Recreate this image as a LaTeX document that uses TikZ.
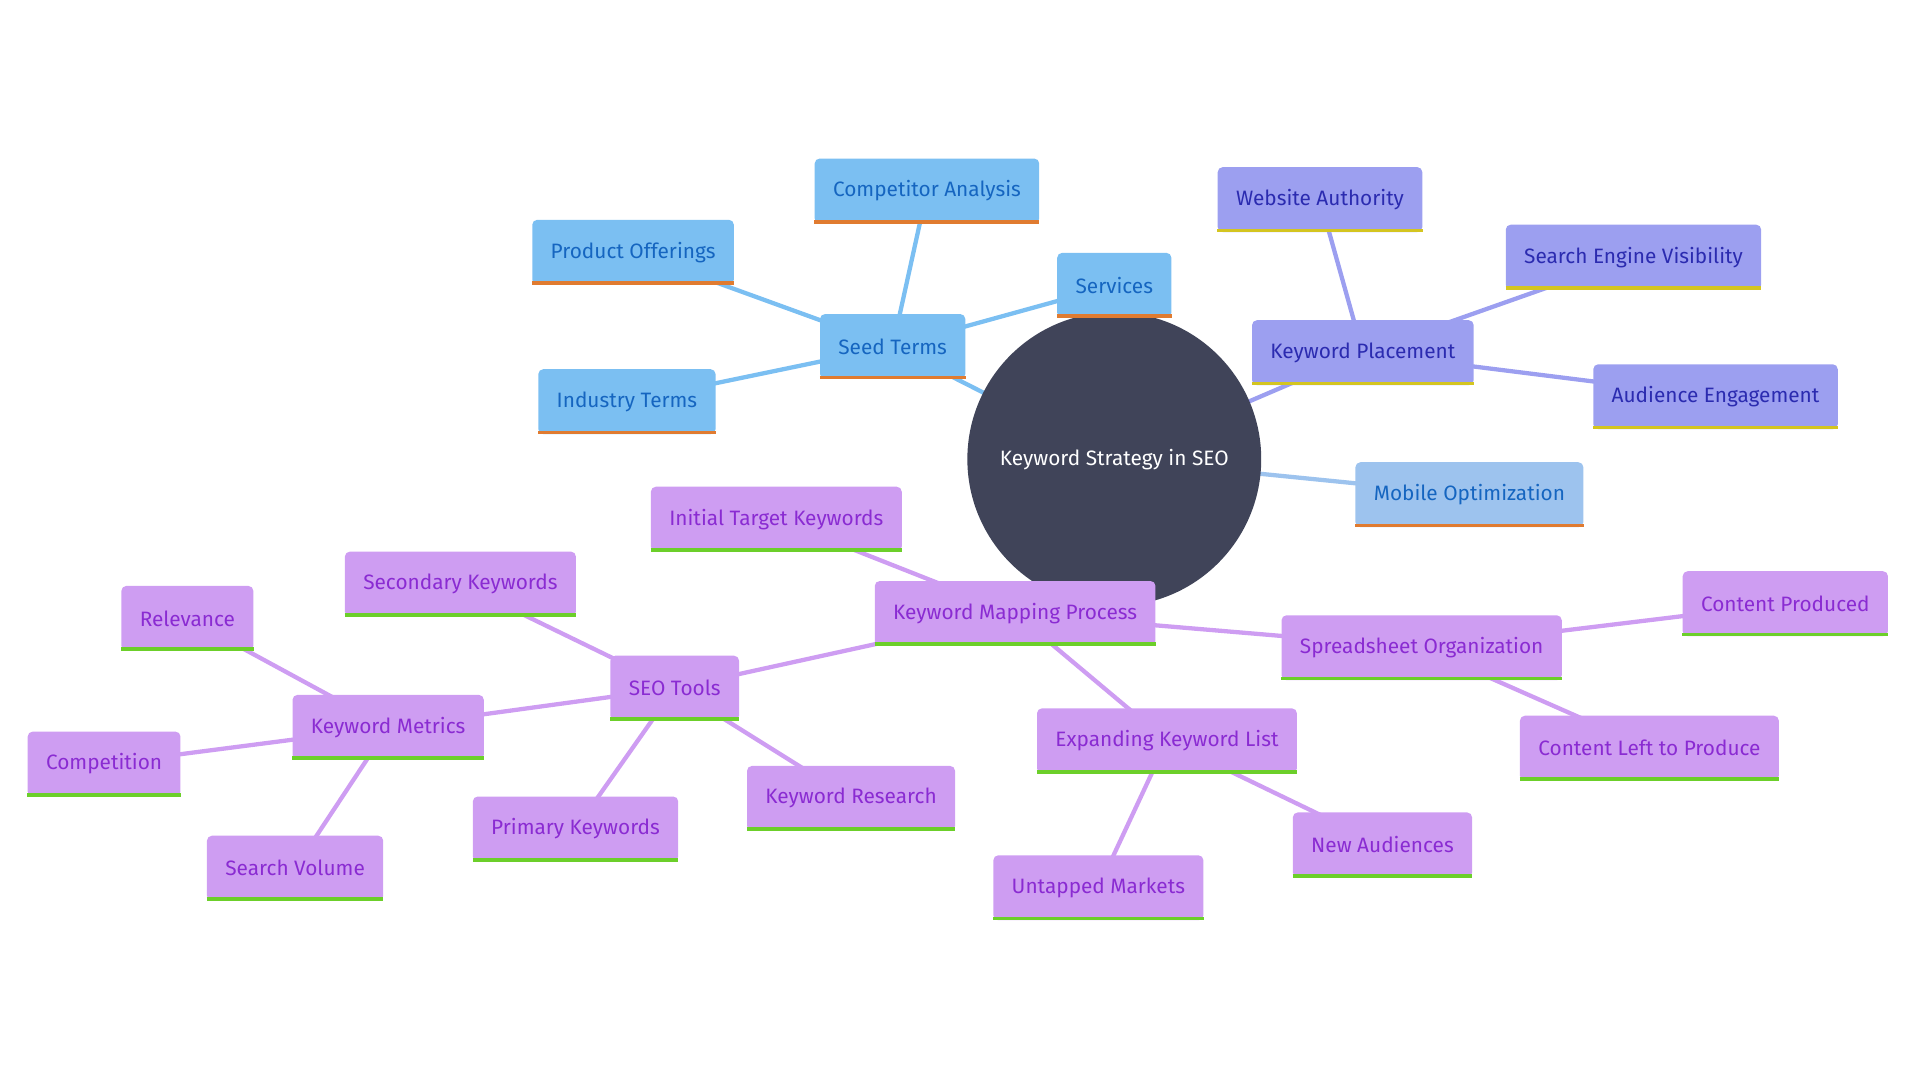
\documentclass[tikz,border=0pt]{standalone}
\usepackage{fontspec}
\setmainfont{Fira Sans}
\usetikzlibrary{backgrounds}
\definecolor{bfill}{HTML}{7BBFF2}
\definecolor{btext}{HTML}{1565C0}
\definecolor{bline}{HTML}{E07B30}
\definecolor{mfill}{HTML}{9DC3EE}
\definecolor{pfill}{HTML}{9C9FF0}
\definecolor{ptext}{HTML}{2B2BB0}
\definecolor{pline}{HTML}{D4C520}
\definecolor{vfill}{HTML}{CE9DF2}
\definecolor{vtext}{HTML}{8A2BD2}
\definecolor{vline}{HTML}{6CCF2A}
\definecolor{hub}{HTML}{404459}
\begin{document}
\begin{tikzpicture}[x=1pt,y=-1pt,
 box/.style={rectangle,rounded corners=4pt,minimum height=53pt,inner xsep=15pt,font=\fontsize{17}{20}\selectfont},
 bb/.style={box,fill=bfill,text=btext},
 mb/.style={box,fill=mfill,text=btext},
 pb/.style={box,fill=pfill,text=ptext},
 vb/.style={box,fill=vfill,text=vtext},
 be/.style={draw=bfill,line width=3.5pt},
 me/.style={draw=mfill,line width=3.5pt},
 pe/.style={draw=pfill,line width=3.5pt},
 ve/.style={draw=vfill,line width=3.5pt}]
\useasboundingbox (0,0) rectangle (1568,882);
\node[circle,fill=hub,minimum size=240pt,text=white,font=\fontsize{17}{20}\selectfont] (c) at (910,375) {Keyword Strategy in SEO};
\node[bb] (st) at (729,283) {Seed Terms};
\node[bb] (ca) at (757,156) {Competitor Analysis};
\node[bb] (po) at (517,206) {Product Offerings};
\node[bb] (sv) at (910,233) {Services};
\node[bb] (it) at (512,328) {Industry Terms};
\node[mb] (mo) at (1200,404) {Mobile Optimization};
\node[pb] (kp) at (1113,288) {Keyword Placement};
\node[pb] (wa) at (1078,163) {Website Authority};
\node[pb] (se) at (1334,210) {Search Engine Visibility};
\node[pb] (ae) at (1401,324) {Audience Engagement};
\node[vb] (km) at (829,501) {Keyword Mapping Process};
\node[vb] (itk) at (634,424) {Initial Target Keywords};
\node[vb] (seo) at (551,562) {SEO Tools};
\node[vb] (sk) at (376,477) {Secondary Keywords};
\node[vb] (kme) at (317,594) {Keyword Metrics};
\node[vb] (rel) at (153,505) {Relevance};
\node[vb] (com) at (85,624) {Competition};
\node[vb] (svo) at (241,709) {Search Volume};
\node[vb] (pk) at (470,677) {Primary Keywords};
\node[vb] (kr) at (695,652) {Keyword Research};
\node[vb] (so) at (1161,529) {Spreadsheet Organization};
\node[vb] (cp) at (1458,493) {Content Produced};
\node[vb] (cl) at (1347,611) {Content Left to Produce};
\node[vb] (ek) at (953,605) {Expanding Keyword List};
\node[vb] (na) at (1129,690) {New Audiences};
\node[vb] (um) at (897,725) {Untapped Markets};
\foreach \n in {st,ca,po,sv,it,mo} \draw[bline,line width=3pt] ([yshift=1.5pt]\n.south west) -- ([yshift=1.5pt]\n.south east);
\foreach \n in {kp,wa,se,ae} \draw[pline,line width=3pt] ([yshift=1.5pt]\n.south west) -- ([yshift=1.5pt]\n.south east);
\foreach \n in {km,itk,seo,sk,kme,rel,com,svo,pk,kr,so,cp,cl,ek,na,um} \draw[vline,line width=3pt] ([yshift=1.5pt]\n.south west) -- ([yshift=1.5pt]\n.south east);
\begin{scope}[on background layer]
\draw[be] (c.center) -- (st.center);
\foreach \n in {ca,po,sv,it} \draw[be] (st.center) -- (\n.center);
\draw[me] (c.center) -- (mo.center);
\draw[pe] (c.center) -- (kp.center);
\foreach \n in {wa,se,ae} \draw[pe] (kp.center) -- (\n.center);
\draw[ve] (c.center) -- (km.center);
\foreach \n in {itk,seo,so,ek} \draw[ve] (km.center) -- (\n.center);
\foreach \n in {sk,kme,pk,kr} \draw[ve] (seo.center) -- (\n.center);
\foreach \n in {rel,com,svo} \draw[ve] (kme.center) -- (\n.center);
\foreach \n in {cp,cl} \draw[ve] (so.center) -- (\n.center);
\foreach \n in {na,um} \draw[ve] (ek.center) -- (\n.center);
\end{scope}
\end{tikzpicture}
\end{document}
